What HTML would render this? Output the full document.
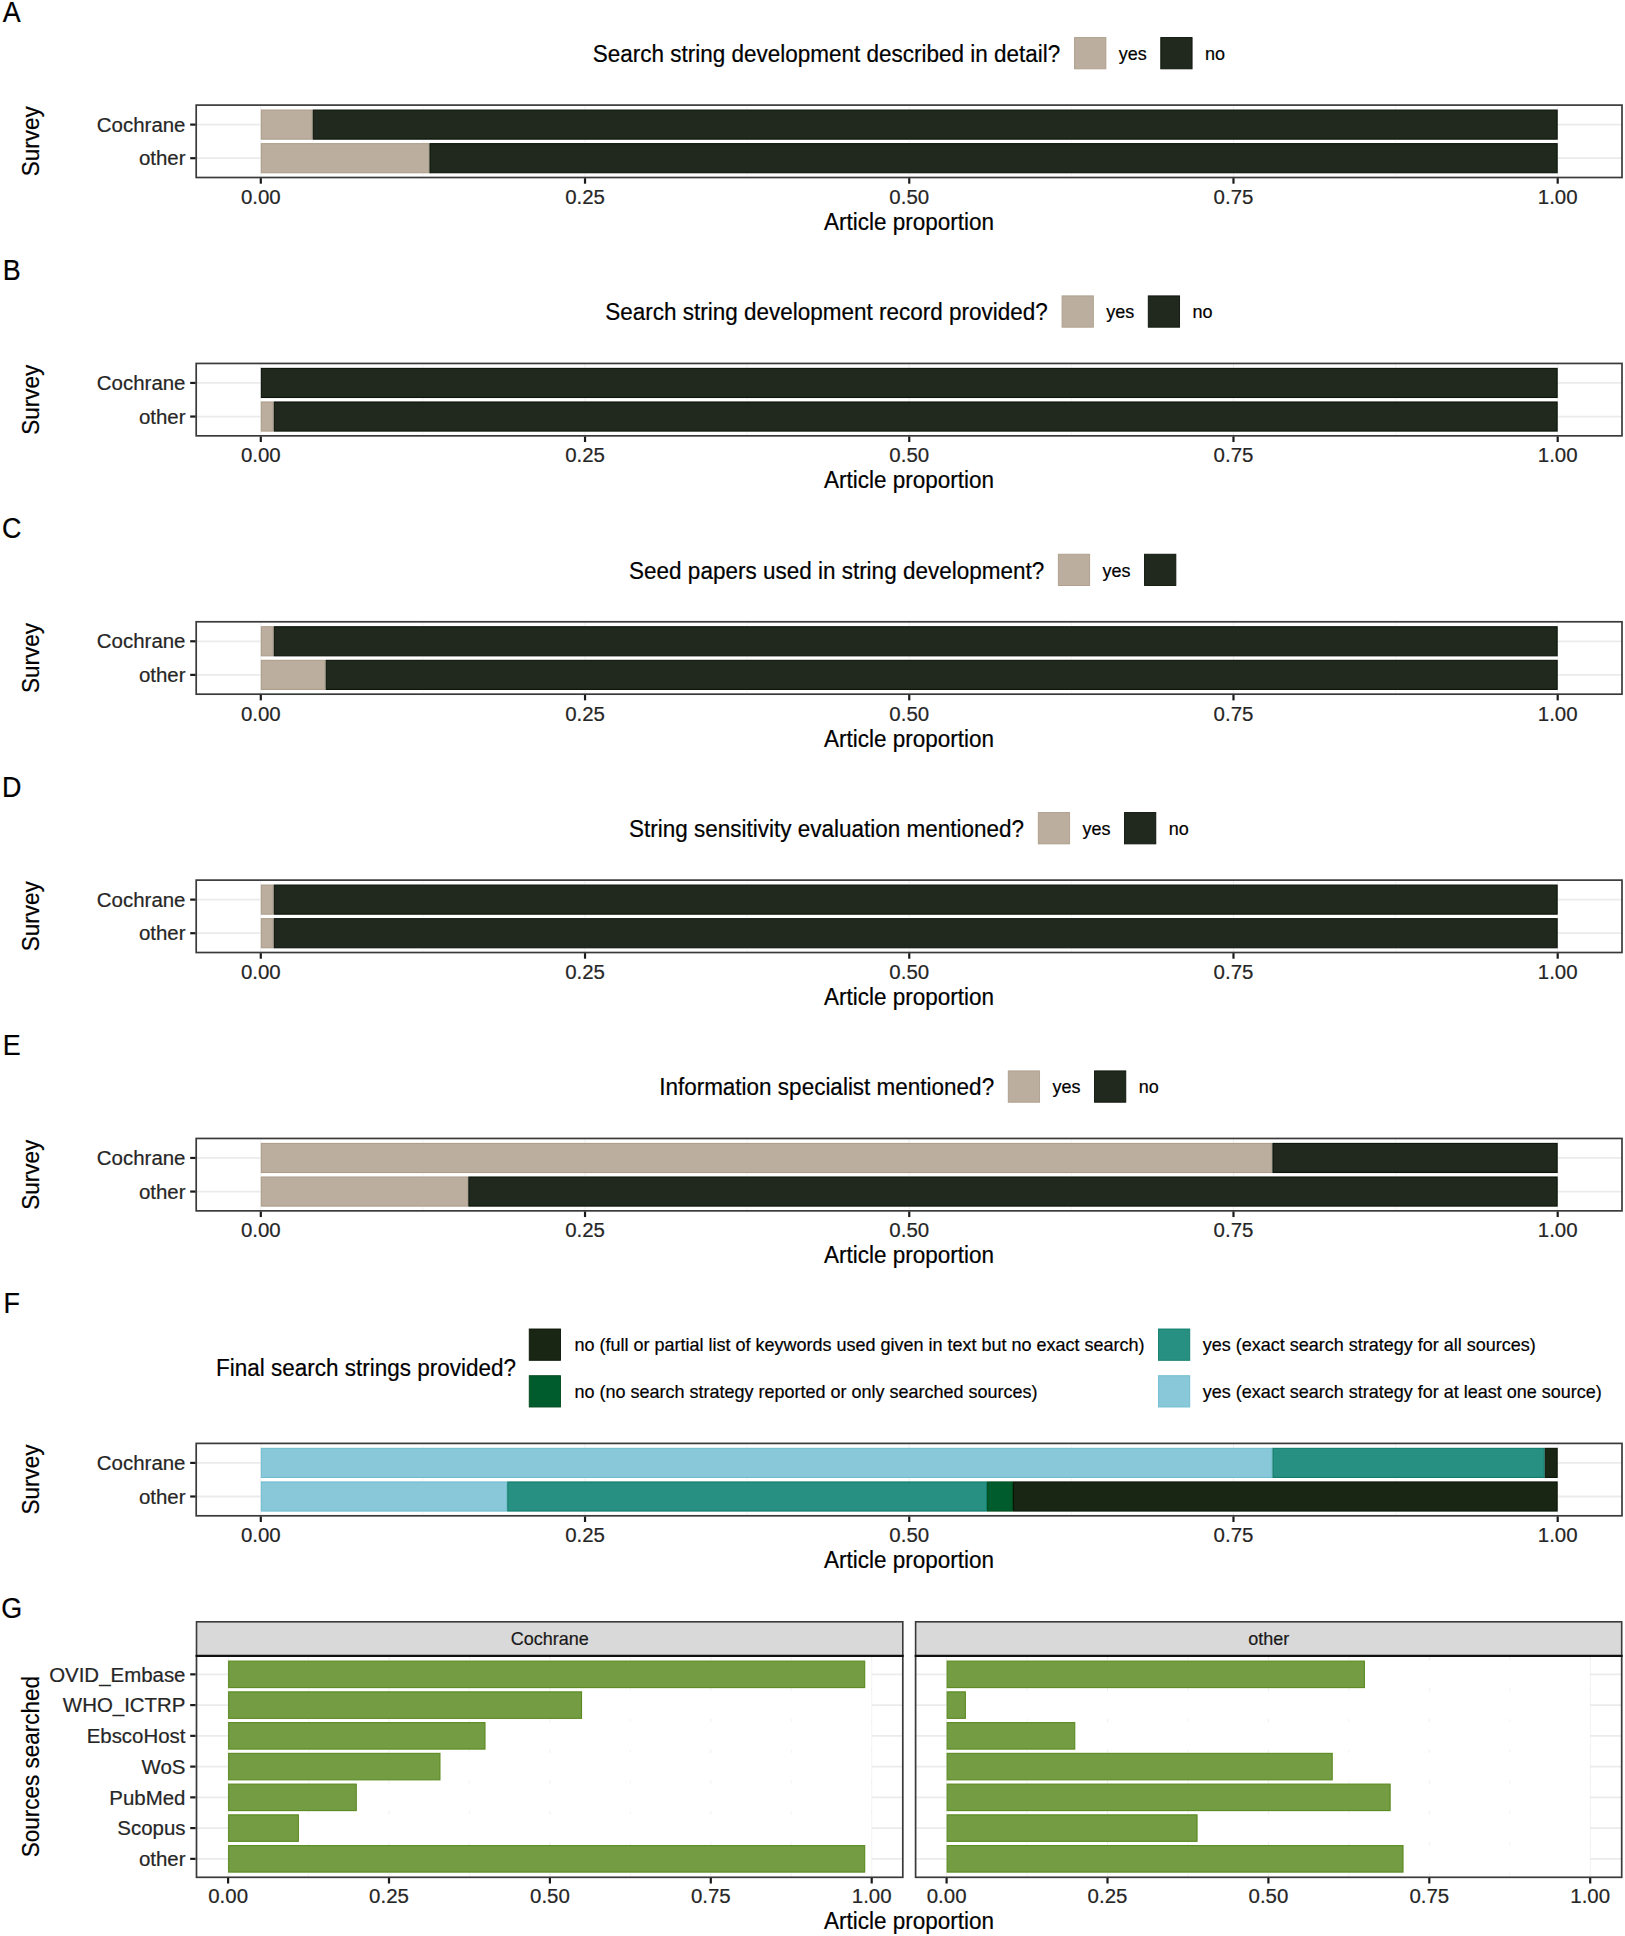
<!DOCTYPE html>
<html lang="en"><head><meta charset="utf-8"><title>Figure</title>
<style>
html,body{margin:0;padding:0;background:#fff;}
body{width:1625px;height:1936px;overflow:hidden;}
svg{display:block;font-family:"Liberation Sans", sans-serif;}
text{stroke-width:0.2px;}
</style></head><body>
<svg width="1625" height="1936" viewBox="0 0 1625 1936">
<rect width="1625" height="1936" fill="#ffffff"/>
<text transform="translate(11.6 21.5) scale(1 1.07)" font-size="26.9" fill="#000" stroke="#000" text-anchor="middle">A</text>
<line x1="260.8" y1="105.1" x2="260.8" y2="177.5" stroke="#F0F0F0" stroke-width="1.0"/>
<line x1="422.91" y1="105.1" x2="422.91" y2="177.5" stroke="#F0F0F0" stroke-width="0.6"/>
<line x1="585.03" y1="105.1" x2="585.03" y2="177.5" stroke="#F0F0F0" stroke-width="1.0"/>
<line x1="747.14" y1="105.1" x2="747.14" y2="177.5" stroke="#F0F0F0" stroke-width="0.6"/>
<line x1="909.25" y1="105.1" x2="909.25" y2="177.5" stroke="#F0F0F0" stroke-width="1.0"/>
<line x1="1071.36" y1="105.1" x2="1071.36" y2="177.5" stroke="#F0F0F0" stroke-width="0.6"/>
<line x1="1233.48" y1="105.1" x2="1233.48" y2="177.5" stroke="#F0F0F0" stroke-width="1.0"/>
<line x1="1395.59" y1="105.1" x2="1395.59" y2="177.5" stroke="#F0F0F0" stroke-width="0.6"/>
<line x1="1557.7" y1="105.1" x2="1557.7" y2="177.5" stroke="#F0F0F0" stroke-width="1.0"/>
<line x1="196.2" y1="124.6" x2="1622" y2="124.6" stroke="#EBEBEB" stroke-width="1.8"/>
<rect x="261.1" y="109.5" width="1296.3" height="30.2" fill="#FFFFFF"/>
<line x1="196.2" y1="158.2" x2="1622" y2="158.2" stroke="#EBEBEB" stroke-width="1.8"/>
<rect x="261.1" y="143.1" width="1296.3" height="30.2" fill="#FFFFFF"/>
<rect x="261.35" y="110.05" width="50.78" height="29.1" fill="#BBAE9E" stroke="#AD9E8B" stroke-width="1.1"/>
<rect x="313.23" y="110.05" width="1243.92" height="29.1" fill="#21291F" stroke="#0B1409" stroke-width="1.1"/>
<rect x="261.35" y="143.65" width="167.5" height="29.1" fill="#BBAE9E" stroke="#AD9E8B" stroke-width="1.1"/>
<rect x="429.95" y="143.65" width="1127.2" height="29.1" fill="#21291F" stroke="#0B1409" stroke-width="1.1"/>
<rect x="196.2" y="105.1" width="1425.8" height="72.4" fill="none" stroke="#3A3A3A" stroke-width="1.7"/>
<line x1="190.2" y1="124.6" x2="195.55" y2="124.6" stroke="#1A1A1A" stroke-width="2.2"/>
<text transform="translate(185.5 131.75) scale(1 1.03)" font-size="20.45" fill="#262626" stroke="#262626" text-anchor="end">Cochrane</text>
<line x1="190.2" y1="158.2" x2="195.55" y2="158.2" stroke="#1A1A1A" stroke-width="2.2"/>
<text transform="translate(185.5 165.35) scale(1 1.03)" font-size="20.45" fill="#262626" stroke="#262626" text-anchor="end">other</text>
<line x1="260.8" y1="178.15" x2="260.8" y2="183.7" stroke="#1A1A1A" stroke-width="2.2"/>
<text transform="translate(260.8 204.1) scale(1 1.03)" font-size="20.45" fill="#262626" stroke="#262626" text-anchor="middle">0.00</text>
<line x1="585.03" y1="178.15" x2="585.03" y2="183.7" stroke="#1A1A1A" stroke-width="2.2"/>
<text transform="translate(585.03 204.1) scale(1 1.03)" font-size="20.45" fill="#262626" stroke="#262626" text-anchor="middle">0.25</text>
<line x1="909.25" y1="178.15" x2="909.25" y2="183.7" stroke="#1A1A1A" stroke-width="2.2"/>
<text transform="translate(909.25 204.1) scale(1 1.03)" font-size="20.45" fill="#262626" stroke="#262626" text-anchor="middle">0.50</text>
<line x1="1233.48" y1="178.15" x2="1233.48" y2="183.7" stroke="#1A1A1A" stroke-width="2.2"/>
<text transform="translate(1233.48 204.1) scale(1 1.03)" font-size="20.45" fill="#262626" stroke="#262626" text-anchor="middle">0.75</text>
<line x1="1557.7" y1="178.15" x2="1557.7" y2="183.7" stroke="#1A1A1A" stroke-width="2.2"/>
<text transform="translate(1557.7 204.1) scale(1 1.03)" font-size="20.45" fill="#262626" stroke="#262626" text-anchor="middle">1.00</text>
<text transform="translate(909.1 230) scale(1 1.03)" font-size="22.5" fill="#000" stroke="#000" text-anchor="middle">Article proportion</text>
<text transform="translate(38.8 141.3) rotate(-90) scale(1 1.03)" font-size="22.5" fill="#000" stroke="#000" text-anchor="middle">Survey</text>
<text transform="translate(592.84 61.9) scale(1 1.03)" font-size="22.5" fill="#000" stroke="#000" text-anchor="start">Search string development described in detail?</text>
<rect x="1074.57" y="37.55" width="31.3" height="31.3" fill="#BBAE9E" stroke="#AD9E8B" stroke-width="0.9"/>
<text transform="translate(1118.72 60) scale(1 1.03)" font-size="18.0" fill="#000" stroke="#000" text-anchor="start">yes</text>
<rect x="1160.78" y="37.55" width="31.3" height="31.3" fill="#21291F" stroke="#0B1409" stroke-width="0.9"/>
<text transform="translate(1204.93 60) scale(1 1.03)" font-size="18.0" fill="#000" stroke="#000" text-anchor="start">no</text>
<text transform="translate(11.6 279.84) scale(1 1.07)" font-size="26.9" fill="#000" stroke="#000" text-anchor="middle">B</text>
<line x1="260.8" y1="363.44" x2="260.8" y2="435.84" stroke="#F0F0F0" stroke-width="1.0"/>
<line x1="422.91" y1="363.44" x2="422.91" y2="435.84" stroke="#F0F0F0" stroke-width="0.6"/>
<line x1="585.03" y1="363.44" x2="585.03" y2="435.84" stroke="#F0F0F0" stroke-width="1.0"/>
<line x1="747.14" y1="363.44" x2="747.14" y2="435.84" stroke="#F0F0F0" stroke-width="0.6"/>
<line x1="909.25" y1="363.44" x2="909.25" y2="435.84" stroke="#F0F0F0" stroke-width="1.0"/>
<line x1="1071.36" y1="363.44" x2="1071.36" y2="435.84" stroke="#F0F0F0" stroke-width="0.6"/>
<line x1="1233.48" y1="363.44" x2="1233.48" y2="435.84" stroke="#F0F0F0" stroke-width="1.0"/>
<line x1="1395.59" y1="363.44" x2="1395.59" y2="435.84" stroke="#F0F0F0" stroke-width="0.6"/>
<line x1="1557.7" y1="363.44" x2="1557.7" y2="435.84" stroke="#F0F0F0" stroke-width="1.0"/>
<line x1="196.2" y1="382.94" x2="1622" y2="382.94" stroke="#EBEBEB" stroke-width="1.8"/>
<rect x="261.1" y="367.84" width="1296.3" height="30.2" fill="#FFFFFF"/>
<line x1="196.2" y1="416.54" x2="1622" y2="416.54" stroke="#EBEBEB" stroke-width="1.8"/>
<rect x="261.1" y="401.44" width="1296.3" height="30.2" fill="#FFFFFF"/>
<rect x="261.35" y="368.39" width="1295.8" height="29.1" fill="#21291F" stroke="#0B1409" stroke-width="1.1"/>
<rect x="261.35" y="401.99" width="11.87" height="29.1" fill="#BBAE9E" stroke="#AD9E8B" stroke-width="1.1"/>
<rect x="274.32" y="401.99" width="1282.83" height="29.1" fill="#21291F" stroke="#0B1409" stroke-width="1.1"/>
<rect x="196.2" y="363.44" width="1425.8" height="72.4" fill="none" stroke="#3A3A3A" stroke-width="1.7"/>
<line x1="190.2" y1="382.94" x2="195.55" y2="382.94" stroke="#1A1A1A" stroke-width="2.2"/>
<text transform="translate(185.5 390.09) scale(1 1.03)" font-size="20.45" fill="#262626" stroke="#262626" text-anchor="end">Cochrane</text>
<line x1="190.2" y1="416.54" x2="195.55" y2="416.54" stroke="#1A1A1A" stroke-width="2.2"/>
<text transform="translate(185.5 423.69) scale(1 1.03)" font-size="20.45" fill="#262626" stroke="#262626" text-anchor="end">other</text>
<line x1="260.8" y1="436.49" x2="260.8" y2="442.04" stroke="#1A1A1A" stroke-width="2.2"/>
<text transform="translate(260.8 462.44) scale(1 1.03)" font-size="20.45" fill="#262626" stroke="#262626" text-anchor="middle">0.00</text>
<line x1="585.03" y1="436.49" x2="585.03" y2="442.04" stroke="#1A1A1A" stroke-width="2.2"/>
<text transform="translate(585.03 462.44) scale(1 1.03)" font-size="20.45" fill="#262626" stroke="#262626" text-anchor="middle">0.25</text>
<line x1="909.25" y1="436.49" x2="909.25" y2="442.04" stroke="#1A1A1A" stroke-width="2.2"/>
<text transform="translate(909.25 462.44) scale(1 1.03)" font-size="20.45" fill="#262626" stroke="#262626" text-anchor="middle">0.50</text>
<line x1="1233.48" y1="436.49" x2="1233.48" y2="442.04" stroke="#1A1A1A" stroke-width="2.2"/>
<text transform="translate(1233.48 462.44) scale(1 1.03)" font-size="20.45" fill="#262626" stroke="#262626" text-anchor="middle">0.75</text>
<line x1="1557.7" y1="436.49" x2="1557.7" y2="442.04" stroke="#1A1A1A" stroke-width="2.2"/>
<text transform="translate(1557.7 462.44) scale(1 1.03)" font-size="20.45" fill="#262626" stroke="#262626" text-anchor="middle">1.00</text>
<text transform="translate(909.1 488.34) scale(1 1.03)" font-size="22.5" fill="#000" stroke="#000" text-anchor="middle">Article proportion</text>
<text transform="translate(38.8 399.64) rotate(-90) scale(1 1.03)" font-size="22.5" fill="#000" stroke="#000" text-anchor="middle">Survey</text>
<text transform="translate(605.35 320.24) scale(1 1.03)" font-size="22.5" fill="#000" stroke="#000" text-anchor="start">Search string development record provided?</text>
<rect x="1062.05" y="295.89" width="31.3" height="31.3" fill="#BBAE9E" stroke="#AD9E8B" stroke-width="0.9"/>
<text transform="translate(1106.2 318.34) scale(1 1.03)" font-size="18.0" fill="#000" stroke="#000" text-anchor="start">yes</text>
<rect x="1148.27" y="295.89" width="31.3" height="31.3" fill="#21291F" stroke="#0B1409" stroke-width="0.9"/>
<text transform="translate(1192.42 318.34) scale(1 1.03)" font-size="18.0" fill="#000" stroke="#000" text-anchor="start">no</text>
<text transform="translate(11.6 538.18) scale(1 1.07)" font-size="26.9" fill="#000" stroke="#000" text-anchor="middle">C</text>
<line x1="260.8" y1="621.78" x2="260.8" y2="694.18" stroke="#F0F0F0" stroke-width="1.0"/>
<line x1="422.91" y1="621.78" x2="422.91" y2="694.18" stroke="#F0F0F0" stroke-width="0.6"/>
<line x1="585.03" y1="621.78" x2="585.03" y2="694.18" stroke="#F0F0F0" stroke-width="1.0"/>
<line x1="747.14" y1="621.78" x2="747.14" y2="694.18" stroke="#F0F0F0" stroke-width="0.6"/>
<line x1="909.25" y1="621.78" x2="909.25" y2="694.18" stroke="#F0F0F0" stroke-width="1.0"/>
<line x1="1071.36" y1="621.78" x2="1071.36" y2="694.18" stroke="#F0F0F0" stroke-width="0.6"/>
<line x1="1233.48" y1="621.78" x2="1233.48" y2="694.18" stroke="#F0F0F0" stroke-width="1.0"/>
<line x1="1395.59" y1="621.78" x2="1395.59" y2="694.18" stroke="#F0F0F0" stroke-width="0.6"/>
<line x1="1557.7" y1="621.78" x2="1557.7" y2="694.18" stroke="#F0F0F0" stroke-width="1.0"/>
<line x1="196.2" y1="641.28" x2="1622" y2="641.28" stroke="#EBEBEB" stroke-width="1.8"/>
<rect x="261.1" y="626.18" width="1296.3" height="30.2" fill="#FFFFFF"/>
<line x1="196.2" y1="674.88" x2="1622" y2="674.88" stroke="#EBEBEB" stroke-width="1.8"/>
<rect x="261.1" y="659.78" width="1296.3" height="30.2" fill="#FFFFFF"/>
<rect x="261.35" y="626.73" width="11.87" height="29.1" fill="#BBAE9E" stroke="#AD9E8B" stroke-width="1.1"/>
<rect x="274.32" y="626.73" width="1282.83" height="29.1" fill="#21291F" stroke="#0B1409" stroke-width="1.1"/>
<rect x="261.35" y="660.33" width="63.75" height="29.1" fill="#BBAE9E" stroke="#AD9E8B" stroke-width="1.1"/>
<rect x="326.2" y="660.33" width="1230.96" height="29.1" fill="#21291F" stroke="#0B1409" stroke-width="1.1"/>
<rect x="196.2" y="621.78" width="1425.8" height="72.4" fill="none" stroke="#3A3A3A" stroke-width="1.7"/>
<line x1="190.2" y1="641.28" x2="195.55" y2="641.28" stroke="#1A1A1A" stroke-width="2.2"/>
<text transform="translate(185.5 648.43) scale(1 1.03)" font-size="20.45" fill="#262626" stroke="#262626" text-anchor="end">Cochrane</text>
<line x1="190.2" y1="674.88" x2="195.55" y2="674.88" stroke="#1A1A1A" stroke-width="2.2"/>
<text transform="translate(185.5 682.03) scale(1 1.03)" font-size="20.45" fill="#262626" stroke="#262626" text-anchor="end">other</text>
<line x1="260.8" y1="694.83" x2="260.8" y2="700.38" stroke="#1A1A1A" stroke-width="2.2"/>
<text transform="translate(260.8 720.78) scale(1 1.03)" font-size="20.45" fill="#262626" stroke="#262626" text-anchor="middle">0.00</text>
<line x1="585.03" y1="694.83" x2="585.03" y2="700.38" stroke="#1A1A1A" stroke-width="2.2"/>
<text transform="translate(585.03 720.78) scale(1 1.03)" font-size="20.45" fill="#262626" stroke="#262626" text-anchor="middle">0.25</text>
<line x1="909.25" y1="694.83" x2="909.25" y2="700.38" stroke="#1A1A1A" stroke-width="2.2"/>
<text transform="translate(909.25 720.78) scale(1 1.03)" font-size="20.45" fill="#262626" stroke="#262626" text-anchor="middle">0.50</text>
<line x1="1233.48" y1="694.83" x2="1233.48" y2="700.38" stroke="#1A1A1A" stroke-width="2.2"/>
<text transform="translate(1233.48 720.78) scale(1 1.03)" font-size="20.45" fill="#262626" stroke="#262626" text-anchor="middle">0.75</text>
<line x1="1557.7" y1="694.83" x2="1557.7" y2="700.38" stroke="#1A1A1A" stroke-width="2.2"/>
<text transform="translate(1557.7 720.78) scale(1 1.03)" font-size="20.45" fill="#262626" stroke="#262626" text-anchor="middle">1.00</text>
<text transform="translate(909.1 746.68) scale(1 1.03)" font-size="22.5" fill="#000" stroke="#000" text-anchor="middle">Article proportion</text>
<text transform="translate(38.8 657.98) rotate(-90) scale(1 1.03)" font-size="22.5" fill="#000" stroke="#000" text-anchor="middle">Survey</text>
<text transform="translate(629.1 578.58) scale(1 1.03)" font-size="22.5" fill="#000" stroke="#000" text-anchor="start">Seed papers used in string development?</text>
<rect x="1058.33" y="554.23" width="31.3" height="31.3" fill="#BBAE9E" stroke="#AD9E8B" stroke-width="0.9"/>
<text transform="translate(1102.48 576.68) scale(1 1.03)" font-size="18.0" fill="#000" stroke="#000" text-anchor="start">yes</text>
<rect x="1144.55" y="554.23" width="31.3" height="31.3" fill="#21291F" stroke="#0B1409" stroke-width="0.9"/>
<text transform="translate(11.6 796.52) scale(1 1.07)" font-size="26.9" fill="#000" stroke="#000" text-anchor="middle">D</text>
<line x1="260.8" y1="880.12" x2="260.8" y2="952.52" stroke="#F0F0F0" stroke-width="1.0"/>
<line x1="422.91" y1="880.12" x2="422.91" y2="952.52" stroke="#F0F0F0" stroke-width="0.6"/>
<line x1="585.03" y1="880.12" x2="585.03" y2="952.52" stroke="#F0F0F0" stroke-width="1.0"/>
<line x1="747.14" y1="880.12" x2="747.14" y2="952.52" stroke="#F0F0F0" stroke-width="0.6"/>
<line x1="909.25" y1="880.12" x2="909.25" y2="952.52" stroke="#F0F0F0" stroke-width="1.0"/>
<line x1="1071.36" y1="880.12" x2="1071.36" y2="952.52" stroke="#F0F0F0" stroke-width="0.6"/>
<line x1="1233.48" y1="880.12" x2="1233.48" y2="952.52" stroke="#F0F0F0" stroke-width="1.0"/>
<line x1="1395.59" y1="880.12" x2="1395.59" y2="952.52" stroke="#F0F0F0" stroke-width="0.6"/>
<line x1="1557.7" y1="880.12" x2="1557.7" y2="952.52" stroke="#F0F0F0" stroke-width="1.0"/>
<line x1="196.2" y1="899.62" x2="1622" y2="899.62" stroke="#EBEBEB" stroke-width="1.8"/>
<rect x="261.1" y="884.52" width="1296.3" height="30.2" fill="#FFFFFF"/>
<line x1="196.2" y1="933.22" x2="1622" y2="933.22" stroke="#EBEBEB" stroke-width="1.8"/>
<rect x="261.1" y="918.12" width="1296.3" height="30.2" fill="#FFFFFF"/>
<rect x="261.35" y="885.07" width="11.87" height="29.1" fill="#BBAE9E" stroke="#AD9E8B" stroke-width="1.1"/>
<rect x="274.32" y="885.07" width="1282.83" height="29.1" fill="#21291F" stroke="#0B1409" stroke-width="1.1"/>
<rect x="261.35" y="918.67" width="11.87" height="29.1" fill="#BBAE9E" stroke="#AD9E8B" stroke-width="1.1"/>
<rect x="274.32" y="918.67" width="1282.83" height="29.1" fill="#21291F" stroke="#0B1409" stroke-width="1.1"/>
<rect x="196.2" y="880.12" width="1425.8" height="72.4" fill="none" stroke="#3A3A3A" stroke-width="1.7"/>
<line x1="190.2" y1="899.62" x2="195.55" y2="899.62" stroke="#1A1A1A" stroke-width="2.2"/>
<text transform="translate(185.5 906.77) scale(1 1.03)" font-size="20.45" fill="#262626" stroke="#262626" text-anchor="end">Cochrane</text>
<line x1="190.2" y1="933.22" x2="195.55" y2="933.22" stroke="#1A1A1A" stroke-width="2.2"/>
<text transform="translate(185.5 940.37) scale(1 1.03)" font-size="20.45" fill="#262626" stroke="#262626" text-anchor="end">other</text>
<line x1="260.8" y1="953.17" x2="260.8" y2="958.72" stroke="#1A1A1A" stroke-width="2.2"/>
<text transform="translate(260.8 979.12) scale(1 1.03)" font-size="20.45" fill="#262626" stroke="#262626" text-anchor="middle">0.00</text>
<line x1="585.03" y1="953.17" x2="585.03" y2="958.72" stroke="#1A1A1A" stroke-width="2.2"/>
<text transform="translate(585.03 979.12) scale(1 1.03)" font-size="20.45" fill="#262626" stroke="#262626" text-anchor="middle">0.25</text>
<line x1="909.25" y1="953.17" x2="909.25" y2="958.72" stroke="#1A1A1A" stroke-width="2.2"/>
<text transform="translate(909.25 979.12) scale(1 1.03)" font-size="20.45" fill="#262626" stroke="#262626" text-anchor="middle">0.50</text>
<line x1="1233.48" y1="953.17" x2="1233.48" y2="958.72" stroke="#1A1A1A" stroke-width="2.2"/>
<text transform="translate(1233.48 979.12) scale(1 1.03)" font-size="20.45" fill="#262626" stroke="#262626" text-anchor="middle">0.75</text>
<line x1="1557.7" y1="953.17" x2="1557.7" y2="958.72" stroke="#1A1A1A" stroke-width="2.2"/>
<text transform="translate(1557.7 979.12) scale(1 1.03)" font-size="20.45" fill="#262626" stroke="#262626" text-anchor="middle">1.00</text>
<text transform="translate(909.1 1005.02) scale(1 1.03)" font-size="22.5" fill="#000" stroke="#000" text-anchor="middle">Article proportion</text>
<text transform="translate(38.8 916.32) rotate(-90) scale(1 1.03)" font-size="22.5" fill="#000" stroke="#000" text-anchor="middle">Survey</text>
<text transform="translate(629.11 836.92) scale(1 1.03)" font-size="22.5" fill="#000" stroke="#000" text-anchor="start">String sensitivity evaluation mentioned?</text>
<rect x="1038.29" y="812.57" width="31.3" height="31.3" fill="#BBAE9E" stroke="#AD9E8B" stroke-width="0.9"/>
<text transform="translate(1082.44 835.02) scale(1 1.03)" font-size="18.0" fill="#000" stroke="#000" text-anchor="start">yes</text>
<rect x="1124.51" y="812.57" width="31.3" height="31.3" fill="#21291F" stroke="#0B1409" stroke-width="0.9"/>
<text transform="translate(1168.66 835.02) scale(1 1.03)" font-size="18.0" fill="#000" stroke="#000" text-anchor="start">no</text>
<text transform="translate(11.6 1054.86) scale(1 1.07)" font-size="26.9" fill="#000" stroke="#000" text-anchor="middle">E</text>
<line x1="260.8" y1="1138.46" x2="260.8" y2="1210.86" stroke="#F0F0F0" stroke-width="1.0"/>
<line x1="422.91" y1="1138.46" x2="422.91" y2="1210.86" stroke="#F0F0F0" stroke-width="0.6"/>
<line x1="585.03" y1="1138.46" x2="585.03" y2="1210.86" stroke="#F0F0F0" stroke-width="1.0"/>
<line x1="747.14" y1="1138.46" x2="747.14" y2="1210.86" stroke="#F0F0F0" stroke-width="0.6"/>
<line x1="909.25" y1="1138.46" x2="909.25" y2="1210.86" stroke="#F0F0F0" stroke-width="1.0"/>
<line x1="1071.36" y1="1138.46" x2="1071.36" y2="1210.86" stroke="#F0F0F0" stroke-width="0.6"/>
<line x1="1233.48" y1="1138.46" x2="1233.48" y2="1210.86" stroke="#F0F0F0" stroke-width="1.0"/>
<line x1="1395.59" y1="1138.46" x2="1395.59" y2="1210.86" stroke="#F0F0F0" stroke-width="0.6"/>
<line x1="1557.7" y1="1138.46" x2="1557.7" y2="1210.86" stroke="#F0F0F0" stroke-width="1.0"/>
<line x1="196.2" y1="1157.96" x2="1622" y2="1157.96" stroke="#EBEBEB" stroke-width="1.8"/>
<rect x="261.1" y="1142.86" width="1296.3" height="30.2" fill="#FFFFFF"/>
<line x1="196.2" y1="1191.56" x2="1622" y2="1191.56" stroke="#EBEBEB" stroke-width="1.8"/>
<rect x="261.1" y="1176.46" width="1296.3" height="30.2" fill="#FFFFFF"/>
<rect x="261.35" y="1143.41" width="1010.48" height="29.1" fill="#BBAE9E" stroke="#AD9E8B" stroke-width="1.1"/>
<rect x="1272.93" y="1143.41" width="284.22" height="29.1" fill="#21291F" stroke="#0B1409" stroke-width="1.1"/>
<rect x="261.35" y="1177.01" width="206.4" height="29.1" fill="#BBAE9E" stroke="#AD9E8B" stroke-width="1.1"/>
<rect x="468.85" y="1177.01" width="1088.3" height="29.1" fill="#21291F" stroke="#0B1409" stroke-width="1.1"/>
<rect x="196.2" y="1138.46" width="1425.8" height="72.4" fill="none" stroke="#3A3A3A" stroke-width="1.7"/>
<line x1="190.2" y1="1157.96" x2="195.55" y2="1157.96" stroke="#1A1A1A" stroke-width="2.2"/>
<text transform="translate(185.5 1165.11) scale(1 1.03)" font-size="20.45" fill="#262626" stroke="#262626" text-anchor="end">Cochrane</text>
<line x1="190.2" y1="1191.56" x2="195.55" y2="1191.56" stroke="#1A1A1A" stroke-width="2.2"/>
<text transform="translate(185.5 1198.71) scale(1 1.03)" font-size="20.45" fill="#262626" stroke="#262626" text-anchor="end">other</text>
<line x1="260.8" y1="1211.51" x2="260.8" y2="1217.06" stroke="#1A1A1A" stroke-width="2.2"/>
<text transform="translate(260.8 1237.46) scale(1 1.03)" font-size="20.45" fill="#262626" stroke="#262626" text-anchor="middle">0.00</text>
<line x1="585.03" y1="1211.51" x2="585.03" y2="1217.06" stroke="#1A1A1A" stroke-width="2.2"/>
<text transform="translate(585.03 1237.46) scale(1 1.03)" font-size="20.45" fill="#262626" stroke="#262626" text-anchor="middle">0.25</text>
<line x1="909.25" y1="1211.51" x2="909.25" y2="1217.06" stroke="#1A1A1A" stroke-width="2.2"/>
<text transform="translate(909.25 1237.46) scale(1 1.03)" font-size="20.45" fill="#262626" stroke="#262626" text-anchor="middle">0.50</text>
<line x1="1233.48" y1="1211.51" x2="1233.48" y2="1217.06" stroke="#1A1A1A" stroke-width="2.2"/>
<text transform="translate(1233.48 1237.46) scale(1 1.03)" font-size="20.45" fill="#262626" stroke="#262626" text-anchor="middle">0.75</text>
<line x1="1557.7" y1="1211.51" x2="1557.7" y2="1217.06" stroke="#1A1A1A" stroke-width="2.2"/>
<text transform="translate(1557.7 1237.46) scale(1 1.03)" font-size="20.45" fill="#262626" stroke="#262626" text-anchor="middle">1.00</text>
<text transform="translate(909.1 1263.36) scale(1 1.03)" font-size="22.5" fill="#000" stroke="#000" text-anchor="middle">Article proportion</text>
<text transform="translate(38.8 1174.66) rotate(-90) scale(1 1.03)" font-size="22.5" fill="#000" stroke="#000" text-anchor="middle">Survey</text>
<text transform="translate(659.13 1095.26) scale(1 1.03)" font-size="22.5" fill="#000" stroke="#000" text-anchor="start">Information specialist mentioned?</text>
<rect x="1008.27" y="1070.91" width="31.3" height="31.3" fill="#BBAE9E" stroke="#AD9E8B" stroke-width="0.9"/>
<text transform="translate(1052.42 1093.36) scale(1 1.03)" font-size="18.0" fill="#000" stroke="#000" text-anchor="start">yes</text>
<rect x="1094.49" y="1070.91" width="31.3" height="31.3" fill="#21291F" stroke="#0B1409" stroke-width="0.9"/>
<text transform="translate(1138.64 1093.36) scale(1 1.03)" font-size="18.0" fill="#000" stroke="#000" text-anchor="start">no</text>
<text transform="translate(11.6 1313.2) scale(1 1.07)" font-size="26.9" fill="#000" stroke="#000" text-anchor="middle">F</text>
<line x1="260.8" y1="1443.4" x2="260.8" y2="1515.8" stroke="#F0F0F0" stroke-width="1.0"/>
<line x1="422.91" y1="1443.4" x2="422.91" y2="1515.8" stroke="#F0F0F0" stroke-width="0.6"/>
<line x1="585.03" y1="1443.4" x2="585.03" y2="1515.8" stroke="#F0F0F0" stroke-width="1.0"/>
<line x1="747.14" y1="1443.4" x2="747.14" y2="1515.8" stroke="#F0F0F0" stroke-width="0.6"/>
<line x1="909.25" y1="1443.4" x2="909.25" y2="1515.8" stroke="#F0F0F0" stroke-width="1.0"/>
<line x1="1071.36" y1="1443.4" x2="1071.36" y2="1515.8" stroke="#F0F0F0" stroke-width="0.6"/>
<line x1="1233.48" y1="1443.4" x2="1233.48" y2="1515.8" stroke="#F0F0F0" stroke-width="1.0"/>
<line x1="1395.59" y1="1443.4" x2="1395.59" y2="1515.8" stroke="#F0F0F0" stroke-width="0.6"/>
<line x1="1557.7" y1="1443.4" x2="1557.7" y2="1515.8" stroke="#F0F0F0" stroke-width="1.0"/>
<line x1="196.2" y1="1462.9" x2="1622" y2="1462.9" stroke="#EBEBEB" stroke-width="1.8"/>
<rect x="261.1" y="1447.8" width="1296.3" height="30.2" fill="#FFFFFF"/>
<line x1="196.2" y1="1496.5" x2="1622" y2="1496.5" stroke="#EBEBEB" stroke-width="1.8"/>
<rect x="261.1" y="1481.4" width="1296.3" height="30.2" fill="#FFFFFF"/>
<rect x="261.35" y="1448.35" width="1010.48" height="29.1" fill="#88C8D8" stroke="#70BDD0" stroke-width="1.1"/>
<rect x="1272.93" y="1448.35" width="271.25" height="29.1" fill="#279082" stroke="#0F7D6C" stroke-width="1.1"/>
<rect x="1545.28" y="1448.35" width="11.87" height="29.1" fill="#1A2614" stroke="#0A1606" stroke-width="1.1"/>
<rect x="261.35" y="1481.95" width="245.31" height="29.1" fill="#88C8D8" stroke="#70BDD0" stroke-width="1.1"/>
<rect x="507.76" y="1481.95" width="478.75" height="29.1" fill="#279082" stroke="#0F7D6C" stroke-width="1.1"/>
<rect x="987.61" y="1481.95" width="24.84" height="29.1" fill="#005C2C" stroke="#004A1C" stroke-width="1.1"/>
<rect x="1013.55" y="1481.95" width="543.6" height="29.1" fill="#1A2614" stroke="#0A1606" stroke-width="1.1"/>
<rect x="196.2" y="1443.4" width="1425.8" height="72.4" fill="none" stroke="#3A3A3A" stroke-width="1.7"/>
<line x1="190.2" y1="1462.9" x2="195.55" y2="1462.9" stroke="#1A1A1A" stroke-width="2.2"/>
<text transform="translate(185.5 1470.05) scale(1 1.03)" font-size="20.45" fill="#262626" stroke="#262626" text-anchor="end">Cochrane</text>
<line x1="190.2" y1="1496.5" x2="195.55" y2="1496.5" stroke="#1A1A1A" stroke-width="2.2"/>
<text transform="translate(185.5 1503.65) scale(1 1.03)" font-size="20.45" fill="#262626" stroke="#262626" text-anchor="end">other</text>
<line x1="260.8" y1="1516.45" x2="260.8" y2="1522" stroke="#1A1A1A" stroke-width="2.2"/>
<text transform="translate(260.8 1542.4) scale(1 1.03)" font-size="20.45" fill="#262626" stroke="#262626" text-anchor="middle">0.00</text>
<line x1="585.03" y1="1516.45" x2="585.03" y2="1522" stroke="#1A1A1A" stroke-width="2.2"/>
<text transform="translate(585.03 1542.4) scale(1 1.03)" font-size="20.45" fill="#262626" stroke="#262626" text-anchor="middle">0.25</text>
<line x1="909.25" y1="1516.45" x2="909.25" y2="1522" stroke="#1A1A1A" stroke-width="2.2"/>
<text transform="translate(909.25 1542.4) scale(1 1.03)" font-size="20.45" fill="#262626" stroke="#262626" text-anchor="middle">0.50</text>
<line x1="1233.48" y1="1516.45" x2="1233.48" y2="1522" stroke="#1A1A1A" stroke-width="2.2"/>
<text transform="translate(1233.48 1542.4) scale(1 1.03)" font-size="20.45" fill="#262626" stroke="#262626" text-anchor="middle">0.75</text>
<line x1="1557.7" y1="1516.45" x2="1557.7" y2="1522" stroke="#1A1A1A" stroke-width="2.2"/>
<text transform="translate(1557.7 1542.4) scale(1 1.03)" font-size="20.45" fill="#262626" stroke="#262626" text-anchor="middle">1.00</text>
<text transform="translate(909.1 1568.3) scale(1 1.03)" font-size="22.5" fill="#000" stroke="#000" text-anchor="middle">Article proportion</text>
<text transform="translate(38.8 1479.6) rotate(-90) scale(1 1.03)" font-size="22.5" fill="#000" stroke="#000" text-anchor="middle">Survey</text>
<text transform="translate(216 1376.2) scale(1 1.03)" font-size="22.5" fill="#000" stroke="#000" text-anchor="start">Final search strings provided?</text>
<rect x="529.25" y="1329" width="31.3" height="31.3" fill="#1A2614" stroke="#0A1606" stroke-width="0.9"/>
<text transform="translate(574.5 1351.15) scale(1 1.03)" font-size="18.0" fill="#000" stroke="#000" text-anchor="start">no (full or partial list of keywords used given in text but no exact search)</text>
<rect x="529.25" y="1375.7" width="31.3" height="31.3" fill="#005C2C" stroke="#004A1C" stroke-width="0.9"/>
<text transform="translate(574.5 1397.85) scale(1 1.03)" font-size="18.0" fill="#000" stroke="#000" text-anchor="start">no (no search strategy reported or only searched sources)</text>
<rect x="1158.45" y="1329" width="31.3" height="31.3" fill="#279082" stroke="#0F7D6C" stroke-width="0.9"/>
<text transform="translate(1202.7 1351.15) scale(1 1.03)" font-size="18.0" fill="#000" stroke="#000" text-anchor="start">yes (exact search strategy for all sources)</text>
<rect x="1158.45" y="1375.7" width="31.3" height="31.3" fill="#88C8D8" stroke="#70BDD0" stroke-width="0.9"/>
<text transform="translate(1202.7 1397.85) scale(1 1.03)" font-size="18.0" fill="#000" stroke="#000" text-anchor="start">yes (exact search strategy for at least one source)</text>
<text transform="translate(11.6 1618.4) scale(1 1.07)" font-size="26.9" fill="#000" stroke="#000" text-anchor="middle">G</text>
<rect x="196.5" y="1621.8" width="706.3" height="34.1" fill="#D9D9D9" stroke="#3A3A3A" stroke-width="1.6"/>
<text transform="translate(549.65 1645.2) scale(1 1.03)" font-size="18.0" fill="#1A1A1A" stroke="#1A1A1A" text-anchor="middle">Cochrane</text>
<line x1="228.1" y1="1655.9" x2="228.1" y2="1877.3" stroke="#EEEEEE" stroke-width="1.0"/>
<line x1="308.55" y1="1655.9" x2="308.55" y2="1877.3" stroke="#EEEEEE" stroke-width="0.7"/>
<line x1="389" y1="1655.9" x2="389" y2="1877.3" stroke="#EEEEEE" stroke-width="1.0"/>
<line x1="469.45" y1="1655.9" x2="469.45" y2="1877.3" stroke="#EEEEEE" stroke-width="0.7"/>
<line x1="549.9" y1="1655.9" x2="549.9" y2="1877.3" stroke="#EEEEEE" stroke-width="1.0"/>
<line x1="630.35" y1="1655.9" x2="630.35" y2="1877.3" stroke="#EEEEEE" stroke-width="0.7"/>
<line x1="710.8" y1="1655.9" x2="710.8" y2="1877.3" stroke="#EEEEEE" stroke-width="1.0"/>
<line x1="791.25" y1="1655.9" x2="791.25" y2="1877.3" stroke="#EEEEEE" stroke-width="0.7"/>
<line x1="871.7" y1="1655.9" x2="871.7" y2="1877.3" stroke="#EEEEEE" stroke-width="1.0"/>
<line x1="196.5" y1="1674.35" x2="902.8" y2="1674.35" stroke="#EBEBEB" stroke-width="1.8"/>
<rect x="228.4" y="1660.55" width="643" height="27.6" fill="#FFFFFF"/>
<line x1="196.5" y1="1705.1" x2="902.8" y2="1705.1" stroke="#EBEBEB" stroke-width="1.8"/>
<rect x="228.4" y="1691.3" width="643" height="27.6" fill="#FFFFFF"/>
<line x1="196.5" y1="1735.85" x2="902.8" y2="1735.85" stroke="#EBEBEB" stroke-width="1.8"/>
<rect x="228.4" y="1722.05" width="643" height="27.6" fill="#FFFFFF"/>
<line x1="196.5" y1="1766.6" x2="902.8" y2="1766.6" stroke="#EBEBEB" stroke-width="1.8"/>
<rect x="228.4" y="1752.8" width="643" height="27.6" fill="#FFFFFF"/>
<line x1="196.5" y1="1797.35" x2="902.8" y2="1797.35" stroke="#EBEBEB" stroke-width="1.8"/>
<rect x="228.4" y="1783.55" width="643" height="27.6" fill="#FFFFFF"/>
<line x1="196.5" y1="1828.1" x2="902.8" y2="1828.1" stroke="#EBEBEB" stroke-width="1.8"/>
<rect x="228.4" y="1814.3" width="643" height="27.6" fill="#FFFFFF"/>
<line x1="196.5" y1="1858.85" x2="902.8" y2="1858.85" stroke="#EBEBEB" stroke-width="1.8"/>
<rect x="228.4" y="1845.05" width="643" height="27.6" fill="#FFFFFF"/>
<rect x="228.65" y="1661.1" width="636.06" height="26.5" fill="#739C43" stroke="#5A8A20" stroke-width="1.1"/>
<rect x="228.65" y="1691.85" width="352.88" height="26.5" fill="#739C43" stroke="#5A8A20" stroke-width="1.1"/>
<rect x="228.65" y="1722.6" width="256.34" height="26.5" fill="#739C43" stroke="#5A8A20" stroke-width="1.1"/>
<rect x="228.65" y="1753.35" width="211.29" height="26.5" fill="#739C43" stroke="#5A8A20" stroke-width="1.1"/>
<rect x="228.65" y="1784.1" width="127.62" height="26.5" fill="#739C43" stroke="#5A8A20" stroke-width="1.1"/>
<rect x="228.65" y="1814.85" width="69.7" height="26.5" fill="#739C43" stroke="#5A8A20" stroke-width="1.1"/>
<rect x="228.65" y="1845.6" width="636.06" height="26.5" fill="#739C43" stroke="#5A8A20" stroke-width="1.1"/>
<rect x="196.5" y="1655.9" width="706.3" height="221.4" fill="none" stroke="#3A3A3A" stroke-width="1.7"/>
<line x1="195.7" y1="1655.9" x2="903.6" y2="1655.9" stroke="#111111" stroke-width="2.3"/>
<line x1="228.1" y1="1877.95" x2="228.1" y2="1883.5" stroke="#1A1A1A" stroke-width="2.2"/>
<text transform="translate(228.1 1902.8) scale(1 1.03)" font-size="20.45" fill="#262626" stroke="#262626" text-anchor="middle">0.00</text>
<line x1="389" y1="1877.95" x2="389" y2="1883.5" stroke="#1A1A1A" stroke-width="2.2"/>
<text transform="translate(389 1902.8) scale(1 1.03)" font-size="20.45" fill="#262626" stroke="#262626" text-anchor="middle">0.25</text>
<line x1="549.9" y1="1877.95" x2="549.9" y2="1883.5" stroke="#1A1A1A" stroke-width="2.2"/>
<text transform="translate(549.9 1902.8) scale(1 1.03)" font-size="20.45" fill="#262626" stroke="#262626" text-anchor="middle">0.50</text>
<line x1="710.8" y1="1877.95" x2="710.8" y2="1883.5" stroke="#1A1A1A" stroke-width="2.2"/>
<text transform="translate(710.8 1902.8) scale(1 1.03)" font-size="20.45" fill="#262626" stroke="#262626" text-anchor="middle">0.75</text>
<line x1="871.7" y1="1877.95" x2="871.7" y2="1883.5" stroke="#1A1A1A" stroke-width="2.2"/>
<text transform="translate(871.7 1902.8) scale(1 1.03)" font-size="20.45" fill="#262626" stroke="#262626" text-anchor="middle">1.00</text>
<rect x="915.6" y="1621.8" width="706.1" height="34.1" fill="#D9D9D9" stroke="#3A3A3A" stroke-width="1.6"/>
<text transform="translate(1268.65 1645.2) scale(1 1.03)" font-size="18.0" fill="#1A1A1A" stroke="#1A1A1A" text-anchor="middle">other</text>
<line x1="946.6" y1="1655.9" x2="946.6" y2="1877.3" stroke="#EEEEEE" stroke-width="1.0"/>
<line x1="1027.05" y1="1655.9" x2="1027.05" y2="1877.3" stroke="#EEEEEE" stroke-width="0.7"/>
<line x1="1107.5" y1="1655.9" x2="1107.5" y2="1877.3" stroke="#EEEEEE" stroke-width="1.0"/>
<line x1="1187.95" y1="1655.9" x2="1187.95" y2="1877.3" stroke="#EEEEEE" stroke-width="0.7"/>
<line x1="1268.4" y1="1655.9" x2="1268.4" y2="1877.3" stroke="#EEEEEE" stroke-width="1.0"/>
<line x1="1348.85" y1="1655.9" x2="1348.85" y2="1877.3" stroke="#EEEEEE" stroke-width="0.7"/>
<line x1="1429.3" y1="1655.9" x2="1429.3" y2="1877.3" stroke="#EEEEEE" stroke-width="1.0"/>
<line x1="1509.75" y1="1655.9" x2="1509.75" y2="1877.3" stroke="#EEEEEE" stroke-width="0.7"/>
<line x1="1590.2" y1="1655.9" x2="1590.2" y2="1877.3" stroke="#EEEEEE" stroke-width="1.0"/>
<line x1="915.6" y1="1674.35" x2="1621.7" y2="1674.35" stroke="#EBEBEB" stroke-width="1.8"/>
<rect x="946.9" y="1660.55" width="643" height="27.6" fill="#FFFFFF"/>
<line x1="915.6" y1="1705.1" x2="1621.7" y2="1705.1" stroke="#EBEBEB" stroke-width="1.8"/>
<rect x="946.9" y="1691.3" width="643" height="27.6" fill="#FFFFFF"/>
<line x1="915.6" y1="1735.85" x2="1621.7" y2="1735.85" stroke="#EBEBEB" stroke-width="1.8"/>
<rect x="946.9" y="1722.05" width="643" height="27.6" fill="#FFFFFF"/>
<line x1="915.6" y1="1766.6" x2="1621.7" y2="1766.6" stroke="#EBEBEB" stroke-width="1.8"/>
<rect x="946.9" y="1752.8" width="643" height="27.6" fill="#FFFFFF"/>
<line x1="915.6" y1="1797.35" x2="1621.7" y2="1797.35" stroke="#EBEBEB" stroke-width="1.8"/>
<rect x="946.9" y="1783.55" width="643" height="27.6" fill="#FFFFFF"/>
<line x1="915.6" y1="1828.1" x2="1621.7" y2="1828.1" stroke="#EBEBEB" stroke-width="1.8"/>
<rect x="946.9" y="1814.3" width="643" height="27.6" fill="#FFFFFF"/>
<line x1="915.6" y1="1858.85" x2="1621.7" y2="1858.85" stroke="#EBEBEB" stroke-width="1.8"/>
<rect x="946.9" y="1845.05" width="643" height="27.6" fill="#FFFFFF"/>
<rect x="947.15" y="1661.1" width="417.24" height="26.5" fill="#739C43" stroke="#5A8A20" stroke-width="1.1"/>
<rect x="947.15" y="1691.85" width="18.21" height="26.5" fill="#739C43" stroke="#5A8A20" stroke-width="1.1"/>
<rect x="947.15" y="1722.6" width="127.62" height="26.5" fill="#739C43" stroke="#5A8A20" stroke-width="1.1"/>
<rect x="947.15" y="1753.35" width="385.06" height="26.5" fill="#739C43" stroke="#5A8A20" stroke-width="1.1"/>
<rect x="947.15" y="1784.1" width="442.98" height="26.5" fill="#739C43" stroke="#5A8A20" stroke-width="1.1"/>
<rect x="947.15" y="1814.85" width="249.9" height="26.5" fill="#739C43" stroke="#5A8A20" stroke-width="1.1"/>
<rect x="947.15" y="1845.6" width="455.86" height="26.5" fill="#739C43" stroke="#5A8A20" stroke-width="1.1"/>
<rect x="915.6" y="1655.9" width="706.1" height="221.4" fill="none" stroke="#3A3A3A" stroke-width="1.7"/>
<line x1="914.8" y1="1655.9" x2="1622.5" y2="1655.9" stroke="#111111" stroke-width="2.3"/>
<line x1="946.6" y1="1877.95" x2="946.6" y2="1883.5" stroke="#1A1A1A" stroke-width="2.2"/>
<text transform="translate(946.6 1902.8) scale(1 1.03)" font-size="20.45" fill="#262626" stroke="#262626" text-anchor="middle">0.00</text>
<line x1="1107.5" y1="1877.95" x2="1107.5" y2="1883.5" stroke="#1A1A1A" stroke-width="2.2"/>
<text transform="translate(1107.5 1902.8) scale(1 1.03)" font-size="20.45" fill="#262626" stroke="#262626" text-anchor="middle">0.25</text>
<line x1="1268.4" y1="1877.95" x2="1268.4" y2="1883.5" stroke="#1A1A1A" stroke-width="2.2"/>
<text transform="translate(1268.4 1902.8) scale(1 1.03)" font-size="20.45" fill="#262626" stroke="#262626" text-anchor="middle">0.50</text>
<line x1="1429.3" y1="1877.95" x2="1429.3" y2="1883.5" stroke="#1A1A1A" stroke-width="2.2"/>
<text transform="translate(1429.3 1902.8) scale(1 1.03)" font-size="20.45" fill="#262626" stroke="#262626" text-anchor="middle">0.75</text>
<line x1="1590.2" y1="1877.95" x2="1590.2" y2="1883.5" stroke="#1A1A1A" stroke-width="2.2"/>
<text transform="translate(1590.2 1902.8) scale(1 1.03)" font-size="20.45" fill="#262626" stroke="#262626" text-anchor="middle">1.00</text>
<line x1="190.2" y1="1674.35" x2="195.55" y2="1674.35" stroke="#1A1A1A" stroke-width="2.2"/>
<text transform="translate(185.5 1681.5) scale(1 1.03)" font-size="20.45" fill="#262626" stroke="#262626" text-anchor="end">OVID_Embase</text>
<line x1="190.2" y1="1705.1" x2="195.55" y2="1705.1" stroke="#1A1A1A" stroke-width="2.2"/>
<text transform="translate(185.5 1712.25) scale(1 1.03)" font-size="20.45" fill="#262626" stroke="#262626" text-anchor="end">WHO_ICTRP</text>
<line x1="190.2" y1="1735.85" x2="195.55" y2="1735.85" stroke="#1A1A1A" stroke-width="2.2"/>
<text transform="translate(185.5 1743) scale(1 1.03)" font-size="20.45" fill="#262626" stroke="#262626" text-anchor="end">EbscoHost</text>
<line x1="190.2" y1="1766.6" x2="195.55" y2="1766.6" stroke="#1A1A1A" stroke-width="2.2"/>
<text transform="translate(185.5 1773.75) scale(1 1.03)" font-size="20.45" fill="#262626" stroke="#262626" text-anchor="end">WoS</text>
<line x1="190.2" y1="1797.35" x2="195.55" y2="1797.35" stroke="#1A1A1A" stroke-width="2.2"/>
<text transform="translate(185.5 1804.5) scale(1 1.03)" font-size="20.45" fill="#262626" stroke="#262626" text-anchor="end">PubMed</text>
<line x1="190.2" y1="1828.1" x2="195.55" y2="1828.1" stroke="#1A1A1A" stroke-width="2.2"/>
<text transform="translate(185.5 1835.25) scale(1 1.03)" font-size="20.45" fill="#262626" stroke="#262626" text-anchor="end">Scopus</text>
<line x1="190.2" y1="1858.85" x2="195.55" y2="1858.85" stroke="#1A1A1A" stroke-width="2.2"/>
<text transform="translate(185.5 1866) scale(1 1.03)" font-size="20.45" fill="#262626" stroke="#262626" text-anchor="end">other</text>
<text transform="translate(909.1 1929.1) scale(1 1.03)" font-size="22.5" fill="#000" stroke="#000" text-anchor="middle">Article proportion</text>
<text transform="translate(38.8 1766.6) rotate(-90) scale(1 1.03)" font-size="22.5" fill="#000" stroke="#000" text-anchor="middle">Sources searched</text>
</svg>
</body></html>
